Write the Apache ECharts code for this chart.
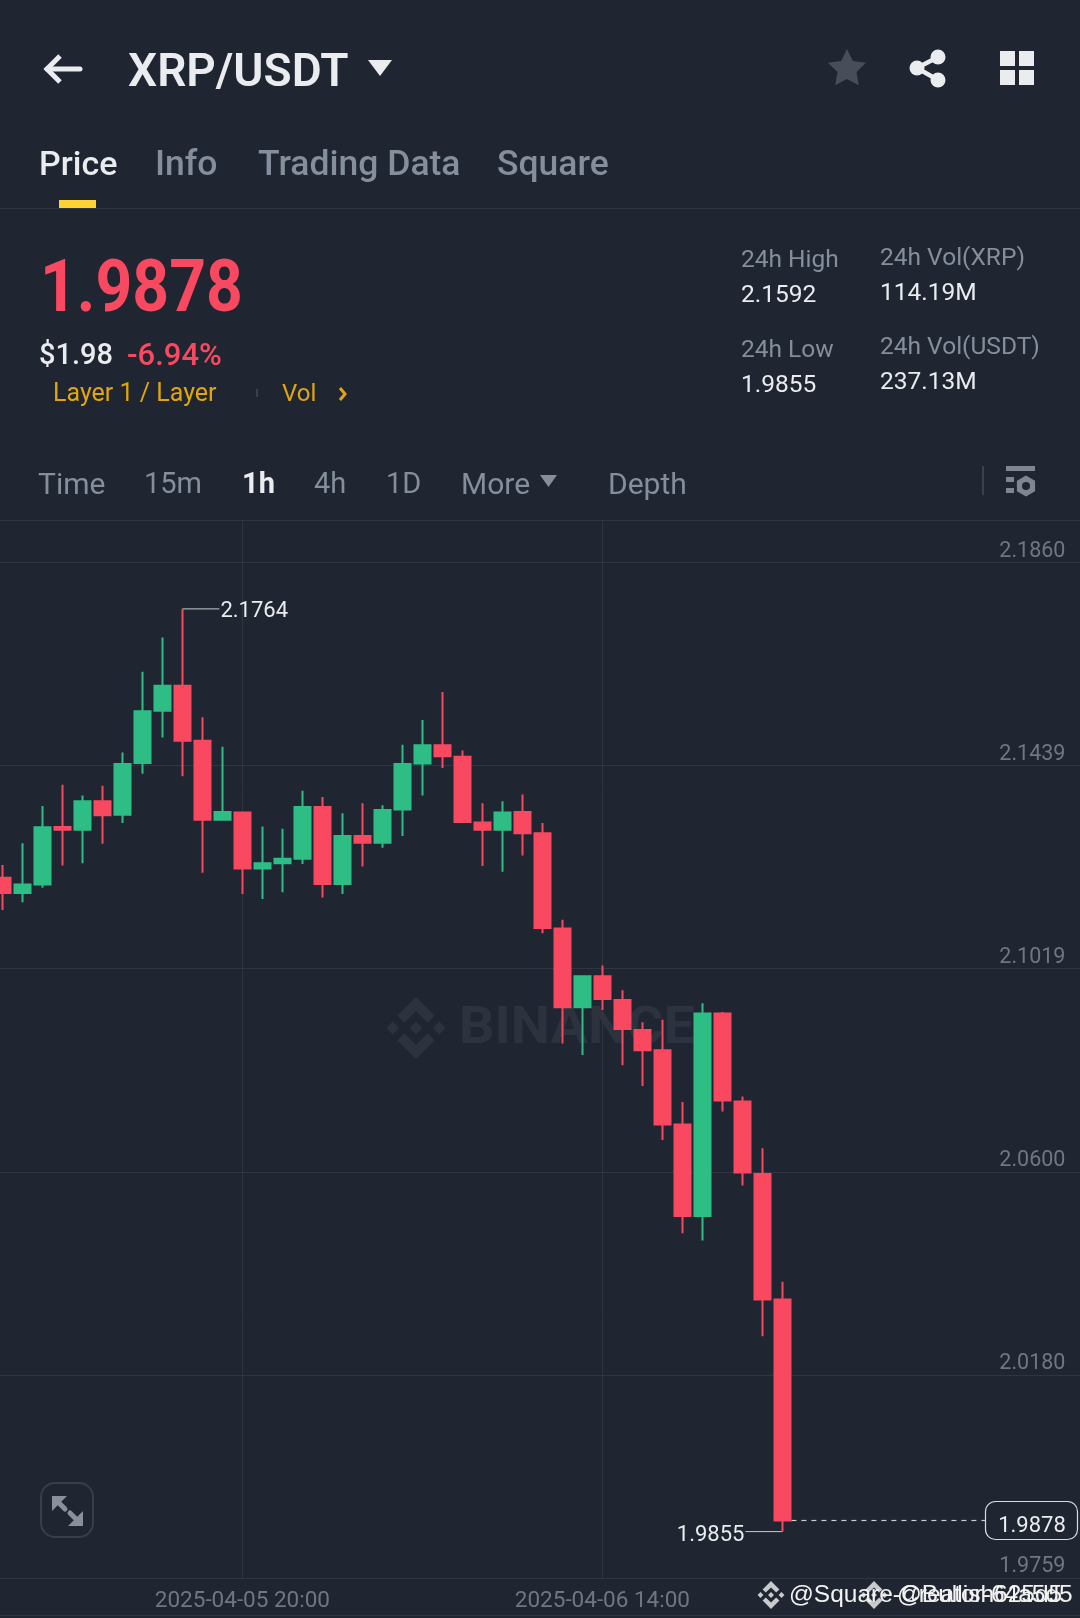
<!DOCTYPE html>
<html>
<head>
<meta charset="utf-8">
<title>XRP/USDT</title>
<style>
  html, body { margin: 0; padding: 0; background: #1f2631; }
  #chart { width: 1080px; height: 1618px; }
</style>
</head>
<body>
<div id="chart"></div>
<script src="https://cdn.jsdelivr.net/npm/echarts@6/dist/echarts.min.js"></script>
<script>
// hourly candles
const times = [
  '2025-04-05 08:00','2025-04-05 09:00','2025-04-05 10:00','2025-04-05 11:00','2025-04-05 12:00',
  '2025-04-05 13:00','2025-04-05 14:00','2025-04-05 15:00','2025-04-05 16:00','2025-04-05 17:00',
  '2025-04-05 18:00','2025-04-05 19:00','2025-04-05 20:00','2025-04-05 21:00','2025-04-05 22:00',
  '2025-04-05 23:00','2025-04-06 00:00','2025-04-06 01:00','2025-04-06 02:00','2025-04-06 03:00',
  '2025-04-06 04:00','2025-04-06 05:00','2025-04-06 06:00','2025-04-06 07:00','2025-04-06 08:00',
  '2025-04-06 09:00','2025-04-06 10:00','2025-04-06 11:00','2025-04-06 12:00','2025-04-06 13:00',
  '2025-04-06 14:00','2025-04-06 15:00','2025-04-06 16:00','2025-04-06 17:00','2025-04-06 18:00',
  '2025-04-06 19:00','2025-04-06 20:00','2025-04-06 21:00','2025-04-06 22:00','2025-04-06 23:00',
  // empty room on the right of the last candle
  '2025-04-07 00:00','2025-04-07 01:00','2025-04-07 02:00','2025-04-07 03:00','2025-04-07 04:00',
  '2025-04-07 05:00','2025-04-07 06:00','2025-04-07 07:00','2025-04-07 08:00','2025-04-07 09:00',
  '2025-04-07 10:00','2025-04-07 11:00','2025-04-07 12:00','2025-04-07 13:00','2025-04-07 14:00'
];
const opens = [
  2.1208, 2.1176, 2.1194, 2.1313, 2.1307, 2.1366, 2.1338, 2.1445, 2.1553, 2.1605,
  2.1491, 2.1328, 2.1343, 2.1227, 2.1238, 2.1247, 2.1354, 2.1195, 2.1294, 2.1280,
  2.1349, 2.1444, 2.1482, 2.1458, 2.1322, 2.1307, 2.1344, 2.1300, 2.1103, 2.0940,
  2.1004, 2.0955, 2.0893, 2.0851, 2.0697, 2.0508, 2.0927, 2.0745, 2.0595, 2.0335
];
const closes = [
  2.1176, 2.1194, 2.1312, 2.1307, 2.1366, 2.1337, 2.1443, 2.1552, 2.1605, 2.1491,
  2.1328, 2.1344, 2.1227, 2.1238, 2.1247, 2.1354, 2.1195, 2.1294, 2.1280, 2.1348,
  2.1443, 2.1482, 2.1459, 2.1323, 2.1307, 2.1343, 2.1300, 2.1104, 2.0940, 2.1004,
  2.0957, 2.0895, 2.0851, 2.0697, 2.0508, 2.0927, 2.0747, 2.0598, 2.0335, 1.9878
];
const lows = [
  2.1141, 2.1157, 2.1187, 2.1233, 2.1238, 2.1278, 2.1321, 2.1423, 2.1498, 2.1418,
  2.1218, 2.1327, 2.1174, 2.1164, 2.1178, 2.1236, 2.1167, 2.1174, 2.1231, 2.1270,
  2.1294, 2.1378, 2.1435, 2.1322, 2.1232, 2.1220, 2.1254, 2.1093, 2.0865, 2.0841,
  2.0934, 2.0820, 2.0777, 2.0665, 2.0472, 2.0457, 2.0724, 2.0571, 2.0259, 1.9855
];
const highs = [
  2.1234, 2.1279, 2.1356, 2.1400, 2.1378, 2.1398, 2.1467, 2.1634, 2.1705, 2.1764,
  2.1540, 2.1479, 2.1345, 2.1314, 2.1309, 2.1388, 2.1375, 2.1341, 2.1362, 2.1358,
  2.1483, 2.1534, 2.1592, 2.1471, 2.1362, 2.1366, 2.1380, 2.1321, 2.1121, 2.1006,
  2.1026, 2.0975, 2.0909, 2.0914, 2.0744, 2.0948, 2.0930, 2.0755, 2.0648, 2.0372
];
const yTicks = [1.9759, 2.0180, 2.0600, 2.1019, 2.1439, 2.1860];
const xTicks = ['2025-04-05 20:00', '2025-04-06 14:00'];
const highMark = [9, 2.1764];
const lowMark = [39, 1.9855];
const lastPrice = [39, 1.9878];

const BG = '#1f2631', LINE = '#30353f', GREY = '#848e9c', WHITE = '#eaecef';
const RED = '#f84960', GREEN = '#2ebd85', GOLD = '#e0a50f', ICON = '#7f8592';

let myChart = echarts.init(document.getElementById('chart'), null, { renderer: 'canvas' });

function txt(x, y, text, size, fill, weight, align) {
  return {
    type: 'text', silent: true,
    style: {
      x: x, y: y, text: text, fill: fill,
      font: (weight || 400) + ' ' + size + 'px Roboto',
      align: align || 'left', verticalAlign: 'middle'
    }
  };
}
function rect(x, y, w, h, fill) {
  return { type: 'rect', silent: true, shape: { x: x, y: y, width: w, height: h }, style: { fill: fill } };
}
function line(x1, y1, x2, y2, stroke, width) {
  return {
    type: 'line', silent: true, shape: { x1: x1, y1: y1, x2: x2, y2: y2 },
    style: { stroke: stroke, lineWidth: width, lineCap: 'round' }
  };
}
function poly(points, fill) {
  return { type: 'polygon', silent: true, shape: { points: points }, style: { fill: fill } };
}
function circle(cx, cy, r, fill) {
  return { type: 'circle', silent: true, shape: { cx: cx, cy: cy, r: r }, style: { fill: fill } };
}
function star(cx, cy, r, fill) {
  let pts = [];
  for (let i = 0; i < 10; i++) {
    let a = -Math.PI / 2 + i * Math.PI / 5;
    let rr = i % 2 ? r * 0.5 : r;
    pts.push([cx + rr * Math.cos(a), cy + rr * Math.sin(a)]);
  }
  return poly(pts, fill);
}
function hexagon(cx, cy, r, fill) {
  let pts = [];
  for (let i = 0; i < 6; i++) {
    let a = -Math.PI / 2 + i * Math.PI / 3;
    pts.push([cx + r * Math.cos(a), cy + r * Math.sin(a)]);
  }
  return poly(pts, fill);
}
// binance diamond mark
function logo(cx, cy, s, fill) {
  const shapes = [
    [[0, -0.21], [0.21, 0], [0, 0.21], [-0.21, 0]],
    [[-0.75, -0.21], [-0.54, 0], [-0.75, 0.21], [-0.96, 0]],
    [[0.75, -0.21], [0.96, 0], [0.75, 0.21], [0.54, 0]],
    [[0, -1], [0.6, -0.4], [0.37, -0.17], [0, -0.54], [-0.37, -0.17], [-0.6, -0.4]],
    [[0, 1], [0.6, 0.4], [0.37, 0.17], [0, 0.54], [-0.37, 0.17], [-0.6, 0.4]]
  ];
  return shapes.map(p => poly(p.map(q => [cx + q[0] * s, cy + q[1] * s]), fill));
}

const chrome = [
  // top bar
  line(47, 69, 80, 69, WHITE, 5),
  { type: 'polyline', silent: true, shape: { points: [[60, 56], [47, 69], [60, 82]] }, style: { stroke: WHITE, lineWidth: 5, fill: null } },
  txt(128, 74, 'XRP/USDT', 46, WHITE, 600),
  poly([[368, 60], [392, 60], [380, 76]], WHITE),
  star(847, 69, 20, '#474d59'),
  line(938, 57, 917, 68, WHITE, 4.5), line(917, 68, 938, 80, WHITE, 4.5),
  circle(938, 57, 7.5, WHITE), circle(917, 68, 7.5, WHITE), circle(938, 80, 7.5, WHITE),
  rect(1000, 51, 15, 15, WHITE), rect(1019, 51, 15, 15, WHITE),
  rect(1000, 70, 15, 15, WHITE), rect(1019, 70, 15, 15, WHITE),

  // tabs
  txt(39, 166, 'Price', 34, WHITE, 500),
  txt(155, 166, 'Info', 35.5, GREY, 500),
  txt(258, 166, 'Trading Data', 35.5, GREY, 500),
  txt(497, 166, 'Square', 35.5, GREY, 500),
  rect(59, 200, 37, 8, '#fcd535'),
  rect(0, 208, 1080, 1, LINE),

  // price block
  { ...txt(40, 293, '1.9878', 73, RED, 700), scaleX: 0.88, scaleY: 1, originX: 40, originY: 293 },
  txt(39, 357, '$1.98', 29, WHITE, 500),
  txt(127, 357, '-6.94%', 31, RED, 500),
  txt(53, 395, 'Layer 1 / Layer', 25, GOLD),
  rect(256, 389, 2, 8, '#3a404c'),
  txt(282, 395, 'Vol', 24, GOLD),
  { type: 'polyline', silent: true, shape: { points: [[340, 388], [345, 394], [340, 400]] }, style: { stroke: GOLD, lineWidth: 3, fill: null } },

  // 24h stats
  txt(741, 261, '24h High', 24.5, GREY),
  txt(741, 296, '2.1592', 24.5, WHITE),
  txt(741, 351, '24h Low', 24.5, GREY),
  txt(741, 386, '1.9855', 24.5, WHITE),
  txt(880, 259, '24h Vol(XRP)', 24.5, GREY),
  txt(880, 294, '114.19M', 24.5, WHITE),
  txt(880, 348, '24h Vol(USDT)', 24.5, GREY),
  txt(880, 383, '237.13M', 24.5, WHITE),

  // timeframe row
  txt(38, 486, 'Time', 30, GREY),
  txt(144, 486, '15m', 29, GREY),
  txt(242, 486, '1h', 29, WHITE, 700),
  txt(314, 486, '4h', 29, GREY),
  txt(386, 486, '1D', 29, GREY),
  txt(461, 486, 'More', 30, GREY),
  poly([[540, 475], [557, 475], [548.5, 487]], GREY),
  txt(608, 486, 'Depth', 30, GREY),
  rect(982, 466, 2, 29, '#3a404c'),
  rect(1006, 466, 29, 5, ICON),
  rect(1006, 477, 8, 5, ICON),
  rect(1006, 488, 8, 5, ICON),
  hexagon(1026, 486, 10.5, ICON),
  circle(1026, 486, 4, BG),

  // expand button
  {
    type: 'rect', silent: true,
    shape: { x: 41, y: 1483, width: 52, height: 54, r: 14 },
    style: { fill: 'transparent', stroke: '#383e4a', lineWidth: 2 }
  },
  poly([[52, 1496], [67, 1496], [52, 1511]], '#8a8f9a'),
  poly([[83, 1526], [68, 1526], [83, 1511]], '#8a8f9a'),
  line(58, 1502, 65, 1509, '#8a8f9a', 5),
  line(70, 1513, 77, 1520, '#8a8f9a', 5),

  // bottom rule
  rect(0, 1615, 1080, 1, LINE)
];

// watermark sits under the candles
const watermark = [
  ...logo(416, 1028, 31, '#2c323e').map(e => ({ ...e, z: -1 })),
  { ...txt(459, 1030, 'BINANCE', 52, '#2c323e', 700), z: -1, scaleX: 1.07, originX: 459, originY: 1030 }
];

// reposted-image tags along the bottom edge, they overlap in the original
const tags = [
  ...logo(771, 1595, 14, '#c9cacd'),
  ...logo(874, 1595, 14, '#c9cacd'),
  {
    type: 'text', silent: true,
    style: { x: 789, y: 1595, text: '@Square-Creator-64a5d5', fill: '#f2f2f2', font: '24.5px "Liberation Sans"', verticalAlign: 'middle' }
  },
  {
    type: 'text', silent: true,
    style: { x: 897, y: 1595, text: '@Bullish625d5', fill: '#f2f2f2', font: '24.5px "Liberation Sans"', verticalAlign: 'middle' }
  }
];

myChart.setOption({
  animation: false,
  backgroundColor: BG,
  graphic: { elements: [...watermark, ...chrome, ...tags] },
  // v6 keeps grids inside the canvas unless told otherwise
  grid: { left: -7.6, right: -12.4, top: 520, bottom: 40, outerBoundsMode: 'none' },
  xAxis: {
    type: 'category',
    data: times,
    boundaryGap: true,
    axisLine: { show: false },
    axisTick: { show: false },
    axisLabel: {
      interval: (i, v) => xTicks.includes(v),
      color: '#6f7783',
      fontFamily: 'Roboto',
      fontSize: 22.5,
      margin: 12,
      hideOverlap: false
    },
    splitLine: {
      show: true,
      alignWithLabel: true,
      interval: (i, v) => xTicks.includes(v),
      lineStyle: { color: LINE, width: 1 }
    }
  },
  yAxis: {
    type: 'value',
    position: 'right',
    min: 1.9759,
    max: 2.19479,
    interval: 0.04202,
    scale: true,
    axisLine: { show: false },
    axisTick: { show: false },
    axisLabel: {
      inside: true,
      customValues: yTicks,
      formatter: v => v.toFixed(4),
      color: '#6f7783',
      fontFamily: 'Roboto',
      fontSize: 21.5,
      margin: 27,
      verticalAlign: 'bottom',
      padding: [0, 0, 0, 0]
    },
    splitLine: { show: true, lineStyle: { color: LINE, width: 1 } }
  },
  series: [
    {
      name: 'XRP/USDT',
      type: 'candlestick',
      barWidth: 16,
      data: opens.map((o, i) => [o, closes[i], lows[i], highs[i]]),
      itemStyle: {
        color: GREEN, color0: RED,
        borderColor: GREEN, borderColor0: RED,
        borderWidth: 2
      }
    },
    {
      // high and low call-outs
      name: 'extremes',
      type: 'custom',
      coordinateSystem: 'cartesian2d',
      clip: false,
      silent: true,
      encode: { x: 0, y: 1 },
      data: [highMark, lowMark],
      renderItem: (params, api) => {
        let p = api.coord([api.value(0), api.value(1)]);
        let isHigh = params.dataIndex === 0;
        let dir = isHigh ? 1 : -1;
        return {
          type: 'group',
          children: [
            { type: 'line', shape: { x1: p[0], y1: p[1], x2: p[0] + dir * 37, y2: p[1] }, style: { stroke: '#c9ccd1', lineWidth: 1 } },
            {
              type: 'text',
              style: {
                x: p[0] + dir * 38, y: p[1] + (isHigh ? 3 : 4),
                text: api.value(1).toFixed(4), fill: WHITE, font: '22px Roboto',
                align: isHigh ? 'left' : 'right', verticalAlign: 'middle'
              }
            }
          ]
        };
      }
    },
    {
      // last price tag
      name: 'last',
      type: 'custom',
      coordinateSystem: 'cartesian2d',
      clip: false,
      silent: true,
      encode: { x: 0, y: 1 },
      data: [lastPrice],
      renderItem: (params, api) => {
        let p = api.coord([api.value(0), api.value(1)]);
        return {
          type: 'group',
          children: [
            { type: 'line', shape: { x1: p[0] + 9, y1: p[1], x2: 985, y2: p[1] }, style: { stroke: '#c9ccd1', lineWidth: 1.2, lineDash: [5, 5] } },
            { type: 'rect', shape: { x: 985.5, y: p[1] - 19, width: 92, height: 38, r: 10 }, style: { fill: BG, stroke: '#d8dade', lineWidth: 1.2 } },
            {
              type: 'text',
              style: {
                x: 1032, y: p[1] + 6, text: api.value(1).toFixed(4), fill: WHITE,
                font: '22px Roboto', align: 'center', verticalAlign: 'middle'
              }
            }
          ]
        };
      }
    }
  ]
});
</script>
</body>
</html>
